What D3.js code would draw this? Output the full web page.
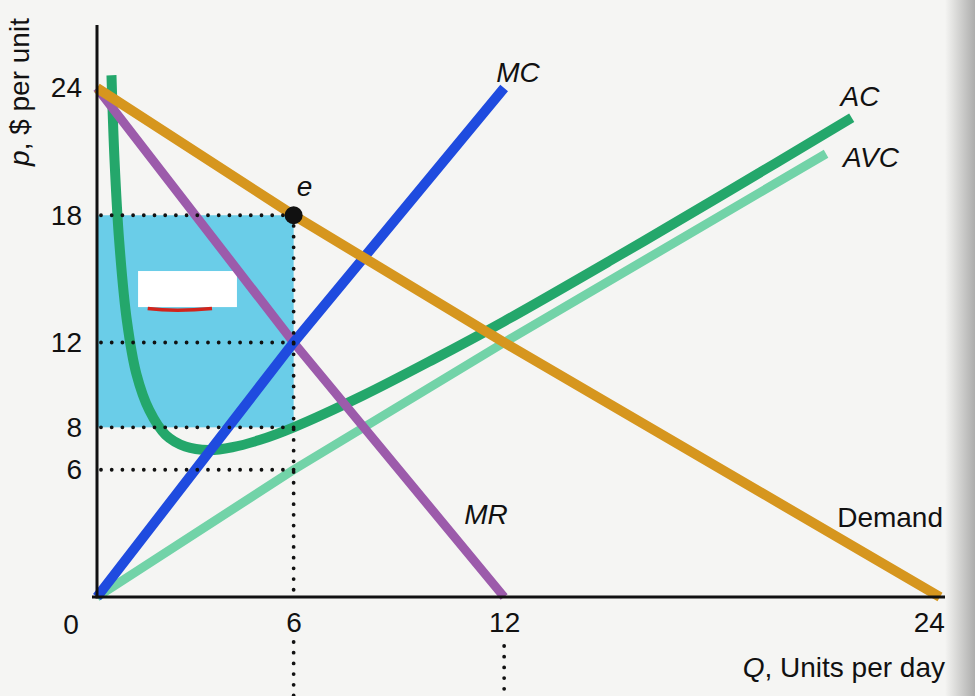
<!DOCTYPE html>
<html>
<head>
<meta charset="utf-8">
<script src="https://cdn.jsdelivr.net/npm/d3@7"></script>
<style>
  html, body { margin: 0; padding: 0; background: #f5f5f3; }
  svg { display: block; }
</style>
</head>
<body>
<div id="chart"></div>
<script>
// Values (Q = units per day, p = $ per unit)
var demandQ = [0, 6, 12, 24];
var demandP = [24, 18, 12, 0];
var mrQ = [0, 6, 12];
var mrP = [24, 12, 0];
var mcQ = [0, 6, 12];
var mcP = [0, 12, 24];
var avcQ = [0, 6, 12, 20.9];
var avcP = [0, 6, 12, 20.9];
var acQ = [0.5, 0.6, 0.75, 1, 1.3, 1.7, 2.2, 2.8, 3.5, 4.2, 5, 6, 8, 10, 12, 15, 18, 21.6];
var acP = [24.6, 20.6, 16.8, 13, 10.5, 8.8, 7.65, 7.1, 6.93, 7.06, 7.4, 8, 9.5, 11.2, 13, 15.9, 18.9, 22.6];
var yTicks = [6, 8, 12, 18, 24];
var xTicks = [6, 12, 24];
var eQ = 6, eP = 18;       // monopoly optimum
var profitP = [18, 8];     // price and average cost at Q = 6

var width = 975;
var height = 696;
var font = "'Liberation Sans', Arial, Helvetica, sans-serif";
var fontSize = 28;

var svg = d3.select("#chart").append("svg")
    .attr("width", width)
    .attr("height", height);

// page background
svg.append("rect")
    .attr("width", width)
    .attr("height", height)
    .attr("fill", "#f5f5f3");

// scales (slight stretch on x to follow the printed figure)
var x = d3.scalePow().exponent(1.05).domain([0, 24]).range([97, 940]);
var y = d3.scaleLinear().domain([0, 24]).range([597, 88]);

var line = d3.line()
    .x(function(d) { return x(d[0]); })
    .y(function(d) { return y(d[1]); });

function pairs(qs, ps) {
    return qs.map(function(q, i) { return [q, ps[i]]; });
}

// profit rectangle
svg.append("rect")
    .attr("x", x(0))
    .attr("y", y(profitP[0]))
    .attr("width", x(eQ) - x(0))
    .attr("height", y(profitP[1]) - y(profitP[0]))
    .attr("fill", "#6acde8");

// white patch covering the old label
svg.append("rect")
    .attr("x", x(1.35))
    .attr("y", y(15.37))
    .attr("width", x(4.34) - x(1.35))
    .attr("height", y(13.67) - y(15.37))
    .attr("fill", "#ffffff");
svg.append("path")
    .attr("d", "M" + x(1.65) + "," + (y(13.67) + 1.5) +
        " Q" + x(2.5) + "," + (y(13.67) + 5) + " " + x(3.6) + "," + (y(13.67) + 1.5))
    .attr("fill", "none")
    .attr("stroke", "#d2241c")
    .attr("stroke-width", 3.5);

// curves
var curves = [
    {data: pairs(avcQ, avcP), color: "#72d3a8", w: 9, curve: d3.curveLinear},
    {data: pairs(acQ, acP), color: "#24a76b", w: 10, curve: d3.curveCatmullRom},
    {data: pairs(mrQ, mrP), color: "#9c5bab", w: 9, curve: d3.curveLinear},
    {data: pairs(mcQ, mcP), color: "#1f4bdf", w: 10, curve: d3.curveLinear},
    {data: pairs(demandQ, demandP), color: "#d6961e", w: 10, curve: d3.curveLinear}
];
curves.forEach(function(c) {
    svg.append("path")
        .datum(c.data)
        .attr("d", line.curve(c.curve))
        .attr("fill", "none")
        .attr("stroke", c.color)
        .attr("stroke-width", c.w)
        .attr("stroke-linecap", "butt")
        .attr("stroke-linejoin", "round");
});

// dotted guide lines
function dotted(x1, y1, x2, y2) {
    svg.append("line")
        .attr("x1", x1).attr("y1", y1)
        .attr("x2", x2).attr("y2", y2)
        .attr("stroke", "#111")
        .attr("stroke-width", 3.8)
        .attr("stroke-linecap", "round")
        .attr("stroke-dasharray", "0 10.7");
}
[18, 12, 8, 6].forEach(function(p) {
    dotted(x(0) + 4, y(p), x(eQ), y(p));
});
dotted(x(eQ), y(eP), x(eQ), y(0));
dotted(x(eQ), 642, x(eQ), height + 5);
dotted(x(12), 646, x(12), height + 5);

// axes lines
svg.append("line")
    .attr("x1", 97).attr("y1", 25)
    .attr("x2", 97).attr("y2", y(0) + 1.5)
    .attr("stroke", "#111").attr("stroke-width", 3);
svg.append("line")
    .attr("x1", 92).attr("y1", y(0))
    .attr("x2", 945).attr("y2", y(0))
    .attr("stroke", "#111").attr("stroke-width", 3);

// tick labels
var yAxis = svg.append("g")
    .attr("transform", "translate(97,0)")
    .call(d3.axisLeft(y).tickValues(yTicks).tickSize(0).tickPadding(15));
var xAxis = svg.append("g")
    .attr("transform", "translate(0," + y(0) + ")")
    .call(d3.axisBottom(x).tickValues(xTicks).tickSize(0).tickPadding(15));
[yAxis, xAxis].forEach(function(a) {
    a.select(".domain").remove();
    a.attr("font-family", font).attr("font-size", fontSize);
    a.selectAll("text").attr("fill", "#111");
});
xAxis.selectAll(".tick text").attr("dx", function(d) { return d === 24 ? "-0.4em" : 0; });

svg.append("text")
    .attr("x", 71).attr("y", 634)
    .attr("text-anchor", "middle")
    .attr("font-family", font).attr("font-size", fontSize).attr("fill", "#111")
    .text("0");

// equilibrium point
svg.append("circle")
    .attr("cx", x(eQ))
    .attr("cy", y(eP))
    .attr("r", 9)
    .attr("fill", "#111");

// labels
function label(tx, ty, anchor, parts) {
    var t = svg.append("text")
        .attr("x", tx).attr("y", ty)
        .attr("text-anchor", anchor)
        .attr("font-family", font)
        .attr("font-size", fontSize)
        .attr("fill", "#111");
    parts.forEach(function(p) {
        t.append("tspan")
            .attr("font-style", p[1] ? "italic" : "normal")
            .text(p[0]);
    });
    return t;
}
label(x(eQ) + 11, 196, "middle", [["e", true]]);
label(518, 82, "middle", [["MC", true]]);
label(860, 106, "middle", [["AC", true]]);
label(871, 167, "middle", [["AVC", true]]);
label(486, 524, "middle", [["MR", true]]);
label(943, 527, "end", [["Demand", false]]);
label(945, 677, "end", [["Q", true], [", Units per day", false]]);

label(0, 0, "middle", [["p", true], [", $ per unit", false]])
    .attr("transform", "translate(29,92) rotate(-90)");

// page curl shadow at the right edge
var defs = svg.append("defs");
var grad = defs.append("linearGradient").attr("id", "edge");
grad.append("stop").attr("offset", "0%").attr("stop-color", "#555").attr("stop-opacity", 0);
grad.append("stop").attr("offset", "100%").attr("stop-color", "#555").attr("stop-opacity", 0.45);
svg.append("rect")
    .attr("x", 945).attr("y", 0)
    .attr("width", 30).attr("height", height)
    .attr("fill", "url(#edge)");
</script>
</body>
</html>
